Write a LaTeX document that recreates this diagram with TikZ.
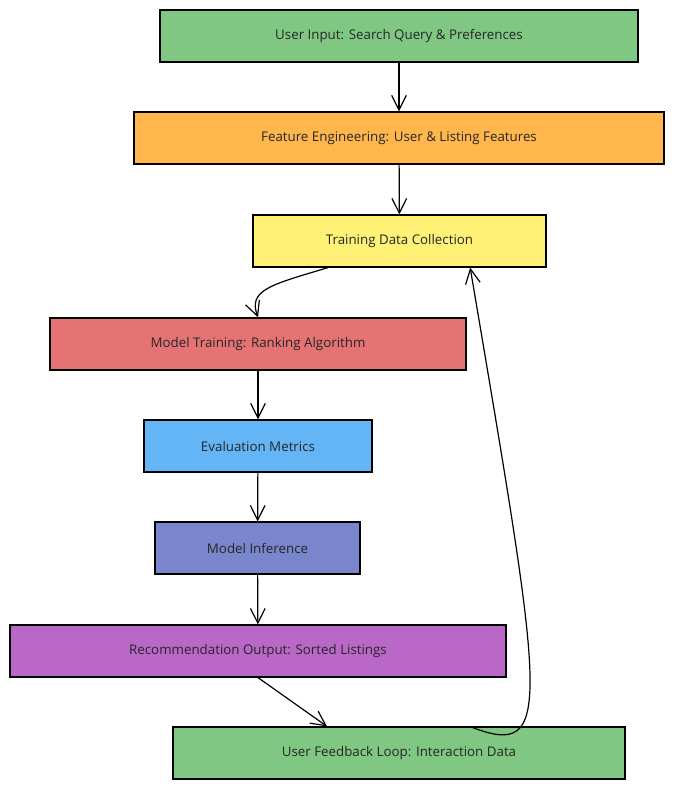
\documentclass[tikz,border=0pt]{standalone}
\usepackage{fontspec}
\setmainfont{Open Sans}
\usetikzlibrary{arrows.meta}
\definecolor{cgreen}{HTML}{81C784}
\definecolor{corange}{HTML}{FFB74D}
\definecolor{cyellow}{HTML}{FFF176}
\definecolor{cred}{HTML}{E57373}
\definecolor{cblue}{HTML}{64B5F6}
\definecolor{cindigo}{HTML}{7986CB}
\definecolor{cpurple}{HTML}{BA68C8}
\begin{document}
\begin{tikzpicture}[x=0.75pt,y=-0.75pt,
  box/.style={draw=black,line width=0.9pt,minimum height=39pt,inner sep=0pt,font=\fontsize{10}{12}\selectfont,text=black!85},
  arr/.style={draw=black,line width=0.9pt,-{Straight Barb[length=11pt,width=11pt]}}]
\useasboundingbox (0,0) rectangle (675,790);
\node[box,fill=cgreen,minimum width=358.5pt] (n1) at (399,36) {User Input: Search Query \& Preferences};
\node[box,fill=corange,minimum width=397.5pt] (n2) at (399,138) {Feature Engineering: User \& Listing Features};
\node[box,fill=cyellow,minimum width=219.75pt] (n3) at (399.5,241) {Training Data Collection};
\node[box,fill=cred,minimum width=312pt] (n4) at (258,344) {Model Training: Ranking Algorithm};
\node[box,fill=cblue,minimum width=171pt] (n5) at (258,446) {Evaluation Metrics};
\node[box,fill=cindigo,minimum width=153.75pt] (n6) at (257.5,548) {Model Inference};
\node[box,fill=cpurple,minimum width=372pt] (n7) at (258,651) {Recommendation Output: Sorted Listings};
\node[box,fill=cgreen,minimum width=339pt] (n8) at (399,753) {User Feedback Loop: Interaction Data};
\draw[arr] (n1) -- (n2);
\draw[arr] (n2) -- (n3);
\draw[arr] ([xshift=-53.6pt]n3.south) .. controls (270,285) and (248,290) .. (n4.north);
\draw[arr] (n4) -- (n5);
\draw[arr] (n5) -- (n6);
\draw[arr] (n6) -- (n7);
\draw[arr] (n7.south) -- ([xshift=-54pt]n8.north);
\draw[arr] ([xshift=53pt]n8.north) .. controls (555,760) and (545,710) .. ([xshift=53pt]n3.south);
\end{tikzpicture}
\end{document}
